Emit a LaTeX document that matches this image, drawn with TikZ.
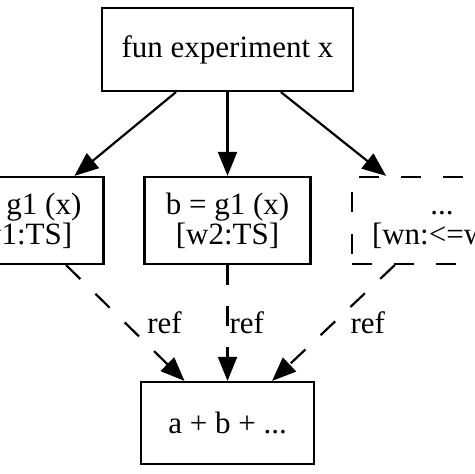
\documentclass[tikz,border=0pt]{standalone}
\usepackage{fontspec}
\setmainfont{Liberation Serif}
\usetikzlibrary{arrows.meta,positioning}

\begin{document}
\begin{tikzpicture}[x=0.5pt,y=-0.5pt,font=\fontsize{15.5}{15}\selectfont,
  box/.style={draw,line width=1.1pt,align=center,inner sep=0pt,minimum height=43.5pt},
  call/.style={box,minimum width=83pt},
  dashbox/.style={box,dash pattern=on 10pt off 11pt,minimum width=90pt},
  edge/.style={line width=1.1pt,-{Triangle[length=12pt,width=9.5pt]}},
  refedge/.style={edge,dash pattern=on 10pt off 10.5pt},
  lbl/.style={inner sep=0pt}]
\useasboundingbox (0,0) rectangle (474,474);
\clip (0,0) rectangle (474,474);
\node[box,minimum width=125.5pt,minimum height=41.5pt] (experiment) at (227.5,49.5) {fun experiment x};
\node[call] (wone) at (20.5,220.5) {a = g1 (x)\\{[w1:TS]}};
\node[call] (wtwo) at (227.5,220.5) {b = g1 (x)\\{[w2:TS]}};
\node[dashbox] (wn) at (442,220.5) {\vphantom{b}...\\{[wn:<=wn]}};
\node[box,minimum width=86.5pt,minimum height=41pt] (sum) at (227.5,423) {a + b + ...};
\draw[edge] (experiment) -- (wone);
\draw[edge] (experiment) -- (wtwo);
\draw[edge] (experiment) -- (wn);
\draw[refedge] (wone) -- node[lbl,right=10.5pt] {ref} (sum);
\draw[refedge] (wtwo) -- node[lbl,right=0.5pt] {ref} (sum);
\draw[refedge] (wn) -- node[lbl,right=8pt] {ref} (sum);
\end{tikzpicture}
\end{document}
